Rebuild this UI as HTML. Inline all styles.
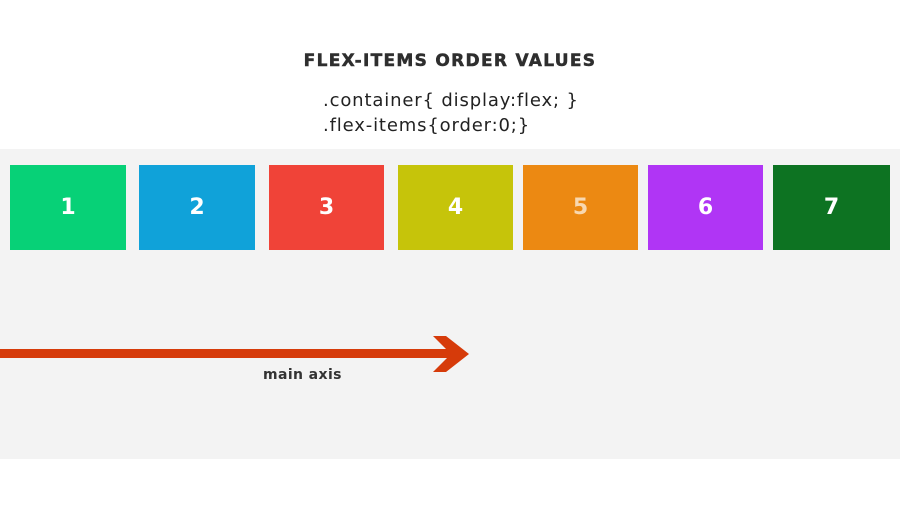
<!DOCTYPE html>
<html><head><style>
body{margin:0;width:900px;height:511px;background:#fff;position:relative;overflow:hidden;font-family:"DejaVu Sans","Liberation Sans",sans-serif}
.t{position:absolute;left:0;width:900px;text-align:center;top:51px;font-weight:bold;font-size:17px;color:#2e2e2e;letter-spacing:1.3px;-webkit-text-stroke:0.5px #2e2e2e}
.c{position:absolute;left:323px;font-size:18px;color:#222;letter-spacing:0.85px}
.band{position:absolute;left:0;top:149px;width:900px;height:310px;background:#f3f3f3}
.b{position:absolute;top:165px;height:85px;color:#fff;font-weight:bold;font-size:22px;display:flex;align-items:center;justify-content:center}
.m{position:absolute;left:263px;top:367px;font-weight:bold;font-size:14px;color:#333;letter-spacing:0.4px}
</style></head><body>
<div class="t">FLEX-ITEMS ORDER VALUES</div>
<div class="c" style="top:90px">.container{ display:flex; }</div>
<div class="c" style="top:115px">.flex-items{order:0;}</div>
<div class="band"></div>
<div class="b" style="left:10px;width:116px;background:#07d177">1</div>
<div class="b" style="left:139px;width:116px;background:#10a2d9">2</div>
<div class="b" style="left:269px;width:115px;background:#f04338">3</div>
<div class="b" style="left:398px;width:115px;background:#c6c40a">4</div>
<div class="b" style="left:523px;width:115px;background:#ec8912;color:#f8d8b0">5</div>
<div class="b" style="left:648px;width:115px;background:#b035f5">6</div>
<div class="b" style="left:773px;width:117px;background:#0d7322">7</div>
<svg style="position:absolute;left:0;top:0" width="900" height="511">
<rect x="0" y="349" width="455" height="9" fill="#d63b0a"/>
<polygon points="433,336 446,336 469,354 446,372 433,372 451,354" fill="#d63b0a"/>
</svg>
<div class="m">main axis</div>
</body></html>
